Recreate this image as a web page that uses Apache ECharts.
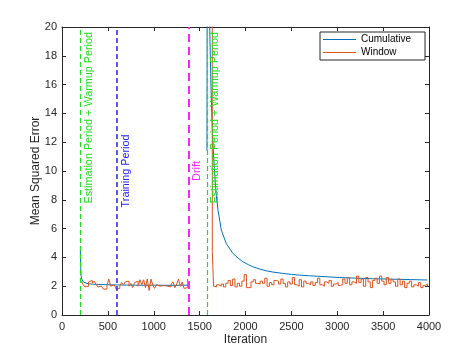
<!DOCTYPE html>
<html>
<head>
<meta charset="utf-8">
<script src="https://cdn.jsdelivr.net/npm/echarts@6/dist/echarts.min.js"></script>
<style>
html,body{margin:0;padding:0;background:#fff;}
#c{width:474px;height:355px;}
</style>
</head>
<body>
<div id="c"></div>
<script>
// ---- data ----
const xTicks = { min: 0, max: 4000, interval: 500 };
const yTicks = { min: 0, max: 20, interval: 2 };

// Cumulative MSE, first run (after estimation + warmup)
const cumIter1 = [200, 204, 208, 214, 222, 235, 255, 285, 330, 400, 500, 650, 800, 1000, 1200, 1380];
const cumVal1  = [4.5, 3.3, 2.75, 2.5, 2.38, 2.28, 2.22, 2.17, 2.14, 2.12, 2.1, 2.08, 2.07, 2.07, 2.06, 2.07];

// Cumulative MSE, second run (after drift)
const cumIter2 = [1580, 1590, 1600, 1610, 1625, 1640, 1660, 1680, 1700, 1736, 1790, 1862, 1920, 1971, 2030, 2080, 2150, 2225, 2300, 2405, 2500, 2587, 2700, 2786, 2900, 3022, 3200, 3384, 3600, 3800, 3980];
const cumVal2  = [11.4, 60, 28, 20, 15.5, 12.5, 10.2, 8.4, 7.3, 5.9, 4.97, 4.28, 3.95, 3.7, 3.5, 3.35, 3.2, 3.07, 2.98, 2.89, 2.82, 2.77, 2.72, 2.69, 2.65, 2.6, 2.56, 2.52, 2.49, 2.46, 2.43];

// Window MSE, first run (one value every 20 iterations from 210)
const winStart1 = 210, winStep1 = 20;
const winVal1 = [2.35, 2.1, 1.95, 2.0, 2.3, 2.4, 2.2, 2.35, 2.15, 1.95, 2.0, 2.1, 1.8, 1.8, 2.05, 2.5, 2.0, 2.1, 2.05, 1.8,
                 1.85, 2.0, 2.25, 2.1, 2.3, 2.35, 2.0, 2.2, 1.9, 2.25, 2.35, 2.0, 2.45, 2.1, 2.45, 1.9, 2.5, 1.7, 2.5, 2.05,
                 1.85, 2.1, 2.0, 1.95, 2.05, 2.1, 2.0, 2.05, 1.95, 2.15, 2.3, 1.9, 2.15, 2.5, 2.0, 2.3, 1.85, 1.9, 2.5];

// Window MSE, second run: initial transient then one value every 25 iterations from 1660
const winHeadIter2 = [1590, 1638, 1652];
const winHeadVal2  = [30, 4.4, 2.0];
const winStart2 = 1660, winStep2 = 25;
const winVal2 = [1.95, 2.1, 2.0, 2.15, 1.95, 2.2, 2.4, 2.05, 2.5, 1.95, 2.2, 2.0, 2.35, 2.8, 1.9, 1.9, 2.3, 2.45, 2.2, 2.15,
                 2.35, 2.2, 2.55, 2.0, 2.25, 2.1, 2.4, 2.35, 2.15, 2.5, 2.2, 1.95, 2.3, 2.15, 2.6, 2.1, 2.0, 2.45, 1.95, 2.35,
                 2.2, 2.1, 2.3, 2.05, 2.25, 2.55, 2.1, 2.0, 2.3, 2.2, 2.4, 2.0, 2.15, 2.25, 2.05, 2.1, 2.5, 2.2, 2.6, 2.1,
                 2.3, 2.2, 2.7, 2.25, 2.5, 2.0, 2.6, 2.3, 1.9, 2.4, 2.55, 2.2, 2.7, 2.35, 2.1, 2.6, 2.2, 2.45, 2.3, 2.0,
                 2.5, 2.1, 2.35, 1.9, 2.2, 2.35, 1.95, 2.1, 2.0, 2.25, 1.9, 2.05, 2.15, 2.0];

// Vertical event lines
const eventIter   = [200, 600, 1380, 1580];
const eventLabel  = ['Estimation Period + Warmup Period', 'Training Period', 'Drift', 'Estimation Period + Warmup Period'];
const eventColor  = ['#22dd22', '#2222ee', '#ff22ff', '#22dd22'];

const seriesNames = ['Cumulative', 'Window'];

// ---- build ----
const zip = (xs, ys) => xs.map((x, i) => [x, ys[i]]);
const cumData = zip(cumIter1, cumVal1).concat([[null, null]], zip(cumIter2, cumVal2));
const win1 = winVal1.map((v, i) => [winStart1 + i * winStep1, v]);
const win2 = zip(winHeadIter2, winHeadVal2).concat(winVal2.map((v, i) => [winStart2 + i * winStep2, v]));
const winData = win1.concat([[null, null]], win2);

const FONT = 'Liberation Sans, Arial, sans-serif';
const AX = '#262626';

const baseAxis = {
  axisLine: { show: true, onZero: false, lineStyle: { color: AX, width: 1 } },
  axisTick: { show: true, inside: true, length: 4, lineStyle: { color: AX } },
  splitLine: { show: false },
};

const chart = echarts.init(document.getElementById('c'), null, { renderer: 'canvas' });
chart.setOption({
  animation: false,
  backgroundColor: '#fff',
  grid: { left: 62, right: 45, top: 27, bottom: 40, containLabel: false },
  legend: {
    data: seriesNames,
    orient: 'vertical',
    left: 320, top: 32,
    icon: 'rect',
    itemWidth: 33, itemHeight: 1, itemGap: 2,
    padding: [2, 14, 2, 3],
    borderColor: AX, borderWidth: 1, backgroundColor: '#fff',
    textStyle: { fontFamily: FONT, fontSize: 10, color: '#000', lineHeight: 11 },
  },
  xAxis: [
    Object.assign({}, baseAxis, {
      type: 'value', ...xTicks, position: 'bottom',
      name: 'Iteration', nameLocation: 'middle', nameGap: 19, nameMoveOverlap: false,
      nameTextStyle: { fontFamily: FONT, fontSize: 12, color: AX },
      axisLabel: { fontFamily: FONT, fontSize: 11, color: AX, margin: 6, formatter: v => String(v) },
    }),
    Object.assign({}, baseAxis, {
      type: 'value', ...xTicks, position: 'top', axisLabel: { show: false },
    }),
  ],
  yAxis: [
    Object.assign({}, baseAxis, {
      type: 'value', ...yTicks, position: 'left',
      name: 'Mean Squared Error', nameLocation: 'middle', nameGap: 20, nameMoveOverlap: false,
      nameTextStyle: { fontFamily: FONT, fontSize: 12, color: AX },
      axisLabel: { fontFamily: FONT, fontSize: 11, color: AX, margin: 5 },
    }),
    Object.assign({}, baseAxis, {
      type: 'value', ...yTicks, position: 'right', axisLabel: { show: false },
    }),
  ],
  series: [
    {
      name: seriesNames[0], type: 'line', data: cumData, connectNulls: false,
      symbol: 'none', clip: true, z: 3,
      lineStyle: { color: '#0072BD', width: 1 }, itemStyle: { color: '#0072BD' },
    },
    {
      name: seriesNames[1], type: 'line', data: winData, connectNulls: false, step: 'end',
      symbol: 'none', clip: true, z: 4,
      lineStyle: { color: '#D95319', width: 1 }, itemStyle: { color: '#D95319' },
      markLine: {
        silent: true, symbol: 'none', animation: false,
        data: eventIter.map((x, i) => ({
          xAxis: x,
          lineStyle: { color: eventColor[i], type: i === 2 ? [8, 5] : [5, 3], width: i === 2 ? 2 : (i === 1 ? 1.5 : 1.2) },
          label: {
            show: true, formatter: eventLabel[i],
            position: (i === 1 || i === 2) ? 'insideMiddleBottom' : 'insideEndBottom',
            distance: [5, 3],
            color: eventColor[i], fontFamily: FONT, fontSize: 10.8,
          },
        })),
      },
    },
  ],
});
</script>
</body>
</html>
